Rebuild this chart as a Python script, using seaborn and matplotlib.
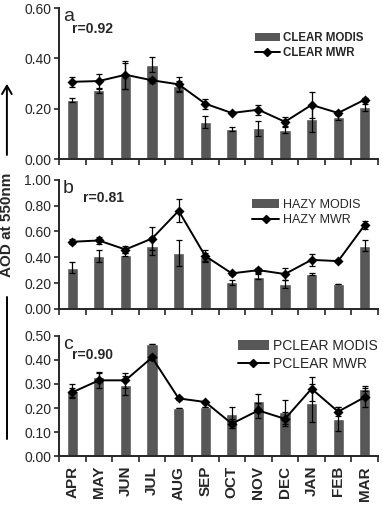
import numpy as np
import matplotlib
matplotlib.use("Agg")
import matplotlib.pyplot as plt
import seaborn as sns
from matplotlib.patches import Patch
from matplotlib.lines import Line2D

# ====================================================================================================
# Data
# ====================================================================================================

months = ["APR", "MAY", "JUN", "JUL", "AUG", "SEP", "OCT", "NOV", "DEC", "JAN", "FEB", "MAR"]

clearModis = [0.235, 0.273, 0.33, 0.375, 0.29, 0.148, 0.119, 0.123, 0.117, 0.159, 0.166, 0.205]
clearModisErr = [0.008, 0.010, 0.05, 0.03, 0.02, 0.025, 0.008, 0.03, 0.015, 0.05, 0.01, 0.015]
clearMwr = [0.307, 0.31, 0.335, 0.313, 0.297, 0.22, 0.183, 0.196, 0.148, 0.215, 0.183, 0.236]
clearMwrErr = [0.02, 0.03, 0.055, 0.01, 0.03, 0.02, 0.005, 0.02, 0.02, 0.05, 0.008, 0.008]

hazyModis = [0.32, 0.41, 0.42, 0.49, 0.43, 0.40, 0.205, 0.25, 0.19, 0.27, 0.19, 0.49]
hazyModisErr = [0.04, 0.05, 0.01, 0.07, 0.10, 0.03, 0.02, 0.02, 0.03, 0.005, 0.0, 0.04]
hazyMwr = [0.52, 0.53, 0.46, 0.545, 0.76, 0.41, 0.275, 0.30, 0.27, 0.38, 0.37, 0.65]
hazyMwrErr = [0.02, 0.03, 0.03, 0.09, 0.09, 0.05, 0.01, 0.02, 0.045, 0.045, 0.01, 0.03]

pclearModis = [0.27, 0.33, 0.295, 0.465, 0.20, 0.205, 0.176, 0.228, 0.183, 0.22, 0.155, 0.28]
pclearModisErr = [0.03, 0.02, 0.04, 0.0, 0.0, 0.0, 0.03, 0.03, 0.05, 0.08, 0.05, 0.01]
pclearMwr = [0.265, 0.315, 0.315, 0.41, 0.24, 0.225, 0.135, 0.19, 0.155, 0.28, 0.185, 0.245]
pclearMwrErr = [0.02, 0.03, 0.03, 0.01, 0.005, 0.005, 0.02, 0.03, 0.03, 0.05, 0.02, 0.04]

# ====================================================================================================
# Style
# ====================================================================================================

sns.set_style("ticks")
plt.rcParams["font.family"] = ["Liberation Sans", "DejaVu Sans"]
plt.rcParams["axes.linewidth"] = 1.4
plt.rcParams["xtick.major.width"] = 1.2
plt.rcParams["ytick.major.width"] = 1.2

BAR_COLOR = "#575757"
MARK_SIZE = 4

# ====================================================================================================
# Drawing
# ====================================================================================================

def drawPanel(ax, modis, modisErr, mwr, mwrErr, yMax, yStep, letter, rText, names, legBold, legPos, legSize, showX):
    xs = np.arange(len(months))
    sns.barplot(ax=ax, x=months, y=modis, color=BAR_COLOR, width=0.42, saturation=1)
    ax.errorbar(xs, modis, yerr=modisErr, fmt="none", ecolor="black", elinewidth=0.9, capsize=2.5, capthick=0.9)
    sns.pointplot(ax=ax, x=months, y=mwr, color="black", markers="D", markersize=MARK_SIZE, linewidth=1.4, errorbar=None)
    ax.errorbar(xs, mwr, yerr=mwrErr, fmt="none", ecolor="black", elinewidth=0.9, capsize=2.5, capthick=0.9)

    ax.set_xlim(-0.5, len(months) - 0.5)
    ax.set_ylim(0, yMax)
    ax.set_yticks(np.arange(0, yMax + 1e-9, yStep))
    ax.set_yticklabels(["{:.2f}".format(v) for v in np.arange(0, yMax + 1e-9, yStep)], fontsize=10)
    ax.set_xticks(np.arange(-0.5, len(months), 1.0))
    ax.set_xticklabels([])
    ax.tick_params(axis="x", length=4, direction="out")
    ax.tick_params(axis="y", length=3.5, direction="out", pad=2)
    if showX:
        ax.set_xticks(xs, minor=True)
        ax.set_xticklabels(months, minor=True, rotation=90, fontsize=11, fontweight="bold")
        ax.tick_params(axis="x", which="minor", length=0, pad=7)
    ax.set_xlabel("")
    ax.set_ylabel("")
    sns.despine(ax=ax)

    ax.text(0.012, 1.0, letter, transform=ax.transAxes, fontsize=14, va="top", ha="left")
    ax.text(rText[0], rText[1], rText[2], transform=ax.transAxes, fontsize=10, fontweight="bold", va="center", ha="left")

    handles = [
        Patch(facecolor=BAR_COLOR, edgecolor="none"),
        Line2D([0], [0], color="black", lw=1.4, marker="D", markersize=MARK_SIZE),
    ]
    ax.legend(
        handles, names, loc="upper left", bbox_to_anchor=legPos, frameon=False
        , handlelength=2.2, handletextpad=0.3, labelspacing=0.25, borderpad=0
        , prop={"size": legSize, "weight": "bold" if legBold else "normal"}
    )


fig = plt.figure(figsize=(3.83, 5.08), dpi=100)
axA = fig.add_axes([0.154, 0.687, 0.833, 0.297])
axB = fig.add_axes([0.154, 0.392, 0.833, 0.254])
axC = fig.add_axes([0.154, 0.102, 0.833, 0.237])

drawPanel(axA, clearModis, clearModisErr, clearMwr, clearMwrErr, 0.6, 0.2, "a", (0.04, 0.86, "r=0.92"),
          ["CLEAR MODIS", "CLEAR MWR"], True, (0.595, 0.88), 8.3, False)
drawPanel(axB, hazyModis, hazyModisErr, hazyMwr, hazyMwrErr, 1.0, 0.2, "b", (0.075, 0.86, "r=0.81"),
          ["HAZY MODIS", "HAZY MWR"], False, (0.585, 0.9), 9, False)
drawPanel(axC, pclearModis, pclearModisErr, pclearMwr, pclearMwrErr, 0.5, 0.1, "c", (0.04, 0.84, "r=0.90"),
          ["PCLEAR MODIS", "PCLEAR MWR"], False, (0.54, 1.03), 10, True)

# --- shared y label with arrow
fig.text(0.018, 0.557, "AOD at 550nm", rotation=90, fontsize=11, fontweight="bold", ha="center", va="center")
fig.add_artist(Line2D([0.018, 0.018], [0.135, 0.415], color="black", lw=1.4))
fig.add_artist(matplotlib.patches.FancyArrowPatch(
    (0.018, 0.695), (0.018, 0.835), transform=fig.transFigure
    , arrowstyle="->,head_length=6,head_width=3.5", color="black", lw=1.4, shrinkA=0, shrinkB=0))

fig.savefig("out.png", dpi=100)
plt.close(fig)
